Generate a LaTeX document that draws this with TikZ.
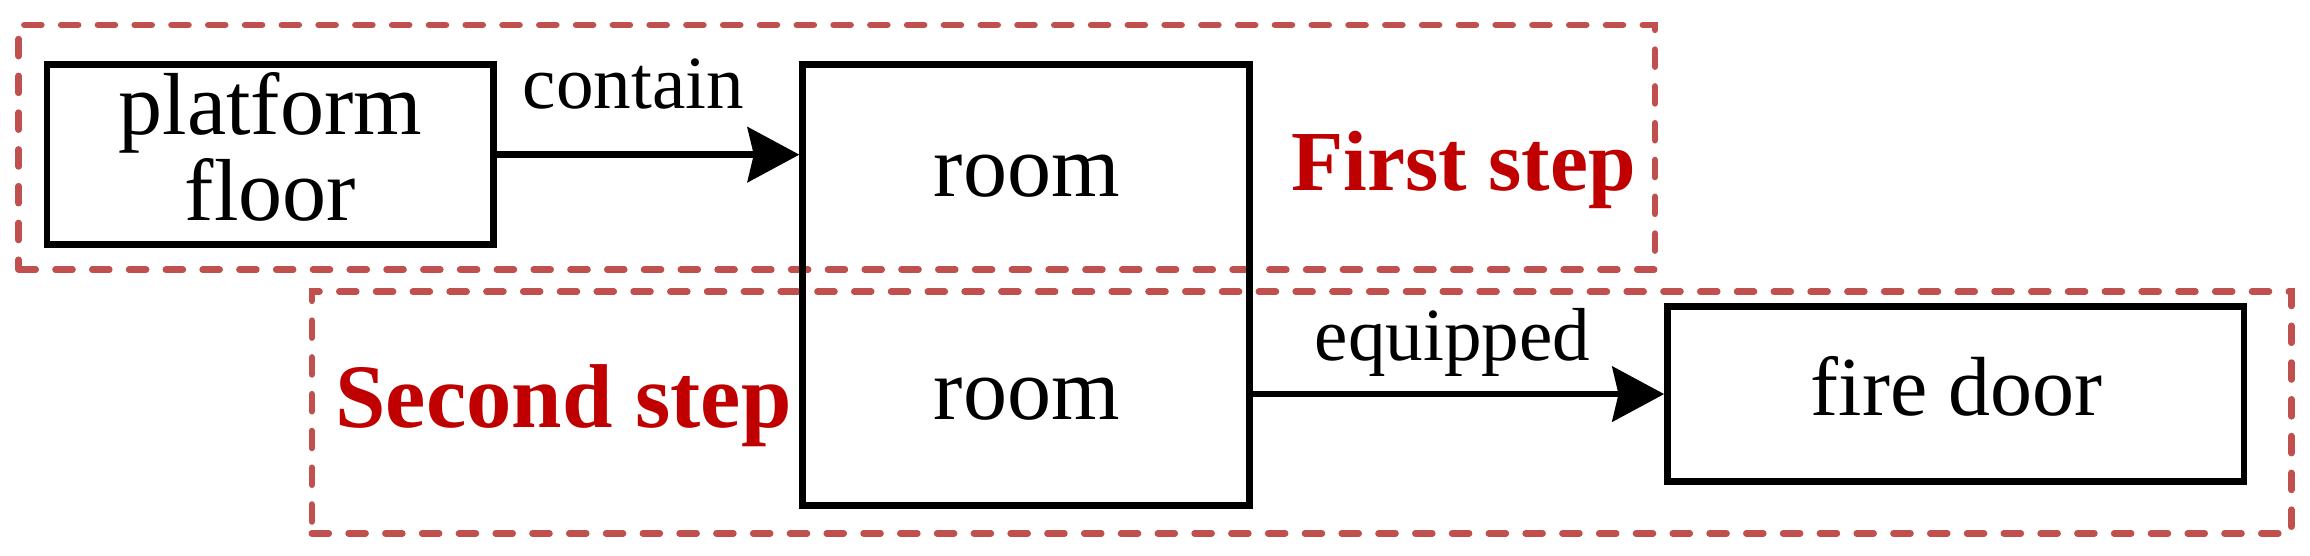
\documentclass[tikz,border=0pt]{standalone}
\usepackage{fontspec}
\setmainfont{Liberation Serif}
\usetikzlibrary{arrows.meta}
\definecolor{dashred}{HTML}{C0504D}
\definecolor{stepred}{HTML}{C00000}
\begin{document}
\begin{tikzpicture}[x=0.01cm,y=-0.01cm,
  box/.style={draw, line width=1.3pt, inner sep=0pt},
  stepframe/.style={draw=dashred, line width=1.25pt, dash pattern=on 3.3pt off 3.8pt, line cap=round, inner sep=0pt},
  maintext/.style={font=\fontsize{17}{14.5}\selectfont, align=center, inner sep=0pt},
  edgelabel/.style={font=\fontsize{14.5}{16}\selectfont, inner sep=0pt},
  steplabel/.style={font=\fontsize{16.5}{18}\selectfont\bfseries, text=stepred, inner sep=0pt},
  arr/.style={line width=1.3pt, -{Stealth[length=10pt,width=10.6pt,inset=1.2pt]}}]
\useasboundingbox (0,0) rectangle (1568,377);
% dashed step frames
\node[stepframe, minimum width=11.10cm, minimum height=1.66cm] (frame1) at (568,100) {};
\node[stepframe, minimum width=13.43cm, minimum height=1.64cm] (frame2) at (883.5,280) {};
% boxes
\node[box, minimum width=3.03cm, minimum height=1.22cm] (platform) at (183.5,105) {};
\node[box, minimum width=3.03cm, minimum height=2.99cm] (roombox) at (696.5,193.5) {};
\node[box, minimum width=3.91cm, minimum height=1.19cm] (firedoor) at (1327.5,267.5) {};
% texts
\node[maintext] (platformtext) at (183.5,100) {platform\\floor};
\node[maintext, anchor=base] (room1) at (697,133.5) {room};
\node[maintext, anchor=base] (room2) at (697,285) {room};
\node[maintext, anchor=base, font=\fontsize{16.2}{14.5}\selectfont] (firedoortext) at (1328,282) {fire door};
\node[steplabel, anchor=base] (first) at (993.5,129) {First step};
\node[steplabel, anchor=base, font=\fontsize{17.5}{18}\selectfont\bfseries] (second) at (382.5,290) {Second step};
% connectors
\draw[arr] (platform.east) -- (platform.east -| roombox.west);
\draw[arr] (firedoor.west -| roombox.east) -- (firedoor.west);
\node[edgelabel, anchor=base] (contain) at (430,73.5) {contain};
\node[edgelabel, anchor=base] (equipped) at (986,244.5) {equipped};
\end{tikzpicture}
\end{document}
